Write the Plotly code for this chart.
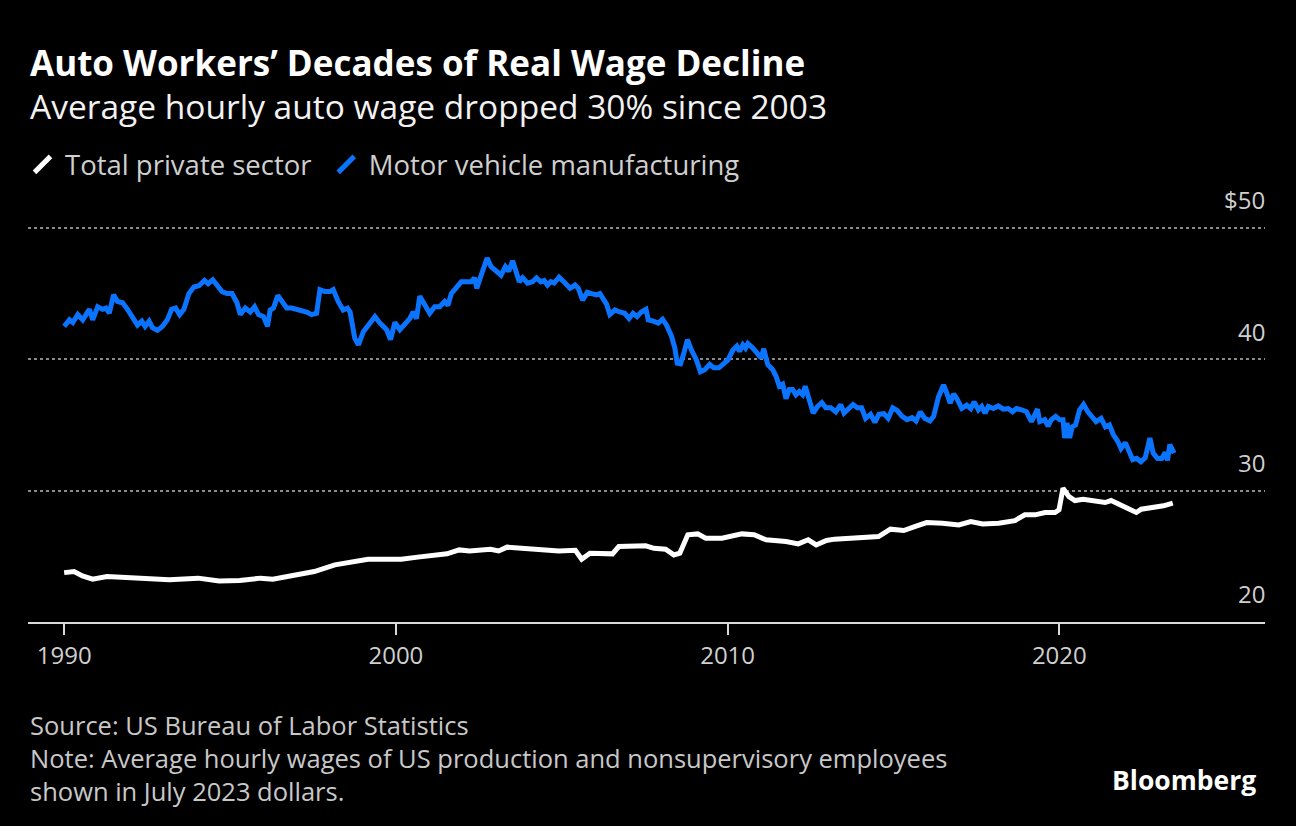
import plotly.graph_objects as go

# ---------------- data ----------------
blue_years = [
    1990.00, 1990.16, 1990.26, 1990.41, 1990.56, 1990.76, 1990.86, 1991.01, 1991.16, 1991.26,
    1991.36, 1991.49, 1991.61, 1991.76, 1991.91, 1992.06, 1992.21, 1992.34, 1992.44, 1992.56,
    1992.66, 1992.81, 1992.96, 1993.11, 1993.24, 1993.36, 1993.48, 1993.61, 1993.76, 1993.91,
    1994.06, 1994.23, 1994.34, 1994.48, 1994.61, 1994.76, 1994.91, 1995.06, 1995.21, 1995.31,
    1995.46, 1995.61, 1995.74, 1995.86, 1996.01, 1996.13, 1996.21, 1996.31, 1996.44, 1996.56,
    1996.71, 1996.86, 1997.01, 1997.16, 1997.31, 1997.46, 1997.61, 1997.71, 1997.86, 1998.01,
    1998.11, 1998.26, 1998.41, 1998.54, 1998.62, 1998.76, 1998.87, 1999.02, 1999.17, 1999.37,
    1999.52, 1999.72, 1999.84, 1999.97, 2000.12, 2000.27, 2000.42, 2000.52, 2000.62, 2000.72,
    2000.87, 2001.02, 2001.17, 2001.32, 2001.47, 2001.57, 2001.67, 2001.82, 2001.97, 2002.12,
    2002.27, 2002.37, 2002.44, 2002.57, 2002.67, 2002.75, 2002.87, 2003.02, 2003.17, 2003.30,
    2003.40, 2003.52, 2003.62, 2003.72, 2003.82, 2003.97, 2004.12, 2004.24, 2004.37, 2004.47,
    2004.57, 2004.67, 2004.77, 2004.92, 2005.10, 2005.25, 2005.40, 2005.50, 2005.63, 2005.77,
    2005.90, 2006.05, 2006.15, 2006.25, 2006.35, 2006.45, 2006.60, 2006.75, 2006.90, 2007.03,
    2007.15, 2007.27, 2007.40, 2007.54, 2007.61, 2007.76, 2007.91, 2008.04, 2008.16, 2008.31,
    2008.41, 2008.48, 2008.58, 2008.68, 2008.79, 2008.91, 2009.06, 2009.18, 2009.31, 2009.46,
    2009.58, 2009.74, 2009.86, 2010.01, 2010.16, 2010.28, 2010.36, 2010.46, 2010.54, 2010.61,
    2010.76, 2010.91, 2011.01, 2011.09, 2011.21, 2011.36, 2011.46, 2011.56, 2011.66, 2011.76,
    2011.86, 2011.96, 2012.06, 2012.16, 2012.26, 2012.34, 2012.46, 2012.58, 2012.71, 2012.84,
    2012.96, 2013.11, 2013.26, 2013.41, 2013.51, 2013.66, 2013.78, 2013.91, 2014.04, 2014.16,
    2014.31, 2014.44, 2014.56, 2014.71, 2014.84, 2014.98, 2015.11, 2015.26, 2015.41, 2015.56,
    2015.68, 2015.81, 2015.94, 2016.10, 2016.21, 2016.36, 2016.51, 2016.61, 2016.71, 2016.81,
    2016.91, 2017.06, 2017.21, 2017.33, 2017.43, 2017.56, 2017.66, 2017.76, 2017.86, 2018.01,
    2018.16, 2018.31, 2018.46, 2018.59, 2018.71, 2018.86, 2019.01, 2019.16, 2019.26, 2019.34,
    2019.41, 2019.56, 2019.66, 2019.76, 2019.89, 2020.01, 2020.11, 2020.16, 2020.23, 2020.31,
    2020.39, 2020.49, 2020.61, 2020.73, 2020.86, 2020.99, 2021.11, 2021.26, 2021.39, 2021.51,
    2021.63, 2021.76, 2021.86, 2021.99, 2022.09, 2022.21, 2022.33, 2022.46, 2022.59, 2022.73,
    2022.83, 2022.96, 2023.09, 2023.19, 2023.26, 2023.33, 2023.41, 2023.46,
]
blue_wages = [
    42.5, 43.0, 42.8, 43.4, 43.0, 43.8, 43.0, 44.0, 43.8, 43.9,
    43.5, 44.9, 44.4, 44.3, 43.8, 43.25, 42.6, 42.9, 42.5, 42.9,
    42.4, 42.2, 42.5, 43.0, 43.8, 43.9, 43.4, 43.8, 45.0, 45.5,
    45.6, 46.0, 45.75, 46.05, 45.6, 45.15, 45.0, 45.0, 44.3, 43.4,
    43.9, 43.6, 44.0, 43.4, 43.25, 42.5, 43.75, 43.9, 44.85, 44.4,
    43.9, 43.9, 43.8, 43.75, 43.6, 43.4, 43.5, 45.3, 45.15, 45.15,
    45.3, 44.4, 43.75, 43.9, 43.6, 41.6, 41.1, 42.1, 42.6, 43.25,
    42.75, 42.25, 41.5, 42.8, 42.25, 42.75, 43.1, 43.6, 43.1, 44.8,
    44.1, 43.5, 44.0, 44.0, 44.4, 44.1, 45.0, 45.5, 45.9, 45.9,
    45.9, 46.2, 45.4, 46.4, 47.05, 47.7, 47.05, 46.7, 46.4, 47.05,
    46.7, 47.5, 46.55, 45.9, 46.2, 45.8, 45.9, 46.2, 45.9, 46.0,
    45.65, 45.9, 45.8, 46.25, 45.8, 45.4, 45.65, 45.4, 44.5, 45.1,
    45.0, 44.9, 45.0, 44.5, 44.2, 43.4, 43.75, 43.6, 43.5, 43.1,
    43.5, 43.25, 43.6, 43.8, 43.0, 42.9, 42.75, 43.05, 42.6, 41.75,
    40.85, 39.7, 39.65, 40.45, 41.5, 40.7, 39.95, 39.05, 39.2, 39.6,
    39.35, 39.35, 39.6, 39.95, 40.7, 41.0, 40.6, 41.1, 40.85, 41.2,
    40.85, 40.45, 40.1, 40.8, 39.6, 39.2, 38.7, 37.95, 38.1, 37.0,
    37.7, 37.7, 37.3, 37.55, 37.3, 37.95, 37.0, 35.9, 36.4, 36.7,
    36.3, 36.3, 36.0, 36.55, 35.9, 36.3, 36.55, 36.3, 36.3, 35.5,
    35.8, 35.2, 35.8, 35.85, 35.5, 36.3, 36.1, 35.65, 35.4, 35.55,
    35.3, 36.0, 35.5, 35.3, 35.65, 37.15, 38.05, 37.4, 36.65, 37.35,
    37.0, 36.25, 36.5, 36.25, 36.75, 36.15, 36.4, 35.9, 36.4, 36.25,
    36.45, 36.2, 36.25, 36.0, 36.25, 36.15, 36.0, 35.25, 35.75, 36.2,
    35.25, 35.4, 34.9, 35.4, 35.65, 35.4, 35.4, 34.0, 35.15, 34.0,
    34.85, 35.0, 36.15, 36.55, 36.0, 35.65, 35.25, 35.5, 34.85, 35.0,
    34.25, 33.75, 33.2, 33.65, 32.95, 32.35, 32.45, 32.2, 32.5, 34.0,
    32.85, 32.45, 32.45, 32.9, 32.3, 33.5, 33.1, 32.85,
]

white_years = [
    1990.00, 1990.30, 1990.55, 1990.86, 1991.29, 1991.67, 1992.42, 1993.17, 1994.04, 1994.67,
    1995.29, 1995.92, 1996.29, 1996.91, 1997.54, 1998.16, 1998.66, 1999.16, 1999.66, 2000.16,
    2000.66, 2001.16, 2001.54, 2001.91, 2002.22, 2002.85, 2003.10, 2003.35, 2003.78, 2004.41,
    2004.91, 2005.41, 2005.60, 2005.85, 2006.28, 2006.53, 2006.72, 2007.28, 2007.53, 2007.78,
    2008.13, 2008.38, 2008.56, 2008.80, 2009.10, 2009.34, 2009.83, 2010.43, 2010.80, 2011.16,
    2011.76, 2012.13, 2012.43, 2012.67, 2012.98, 2013.22, 2013.94, 2014.55, 2014.91, 2015.31,
    2015.64, 2016.00, 2016.48, 2016.97, 2017.33, 2017.69, 2018.17, 2018.66, 2018.96, 2019.27,
    2019.57, 2019.87, 2019.99, 2020.11, 2020.29, 2020.47, 2020.72, 2021.08, 2021.38, 2021.56,
    2021.87, 2022.17, 2022.32, 2022.47, 2022.78, 2023.14, 2023.42,
]
white_wages = [
    23.75, 23.83, 23.5, 23.25, 23.45, 23.4, 23.3, 23.2, 23.33, 23.12,
    23.15, 23.33, 23.25, 23.5, 23.83, 24.34, 24.52, 24.77, 24.77, 24.77,
    24.93, 25.03, 25.18, 25.48, 25.4, 25.53, 25.4, 25.69, 25.6, 25.48,
    25.4, 25.45, 24.77, 25.23, 25.23, 25.18, 25.74, 25.79, 25.79, 25.6,
    25.53, 25.1, 25.23, 26.63, 26.7, 26.37, 26.37, 26.7, 26.63, 26.25,
    26.12, 25.94, 26.25, 25.86, 26.2, 26.3, 26.37, 26.5, 27.06, 26.96,
    27.26, 27.56, 27.51, 27.38, 27.64, 27.46, 27.51, 27.71, 28.15, 28.15,
    28.33, 28.33, 28.53, 30.18, 29.54, 29.24, 29.34, 29.24, 29.09, 29.24,
    28.91, 28.58, 28.33, 28.58, 28.66, 28.84, 29.04,
]

series_names = ["Total private sector", "Motor vehicle manufacturing"]
x_tick_vals = [1990, 2000, 2010, 2020]
x_tick_text = ["1990", "2000", "2010", "2020"]
y_tick_vals = [20, 30, 40, 50]
y_tick_text = ["20", "30", "40", "$50"]

title_text = "Auto Workers’ Decades of Real Wage Decline"
subtitle_text = "Average hourly auto wage dropped 30% since 2003"
source_lines = [
    "Source: US Bureau of Labor Statistics",
    "Note: Average hourly wages of US production and nonsupervisory employees",
    "shown in July 2023 dollars.",
]

# ---------------- styling ----------------
FONT = "Open Sans"
BLUE = "#0a74ff"
WHITE = "#ffffff"
GREY_TXT = "#cfcfcf"

fig = go.Figure()

fig.add_trace(go.Scatter(
    x=white_years, y=white_wages, mode="lines",
    line=dict(color=WHITE, width=5), showlegend=False, hoverinfo="skip",
))
fig.add_trace(go.Scatter(
    x=blue_years, y=blue_wages, mode="lines",
    line=dict(color=BLUE, width=5), showlegend=False, hoverinfo="skip",
))

# legend entries with slanted glyphs
legend_labels = [series_names[0] + "\u00a0", series_names[1]]
for name, col in zip(legend_labels, [WHITE, BLUE]):
    fig.add_trace(go.Scatter(
        x=[None], y=[None], mode="markers", name=name,
        marker=dict(symbol="line-ne", size=22, line=dict(width=5, color=col), color=col),
    ))

W, H = 1296, 826
ml, mr, mt, mb = 28, 31, 224, 204
y_lo, y_hi = 19.99, 50.3
ph = H - mt - mb
base_pix = H - mb  # pixel row of y_lo


def py(pix):
    # pixel row -> paper fraction
    return (base_pix - pix) / ph


fig.update_layout(
    width=W, height=H,
    paper_bgcolor="#000000", plot_bgcolor="#000000",
    margin=dict(l=ml, r=mr, t=mt, b=mb),
    font=dict(family=FONT, color=GREY_TXT, size=24),
    showlegend=True,
    legend=dict(
        orientation="h", xref="container", yref="container",
        x=20 / W, y=1 - 140 / H, xanchor="left", yanchor="top",
        font=dict(family=FONT, size=27.5, color=GREY_TXT),
        bgcolor="rgba(0,0,0,0)", itemwidth=35, tracegroupgap=0,
    ),
    xaxis=dict(
        range=[1988.91, 2026.2], tickvals=x_tick_vals, ticktext=x_tick_text,
        showgrid=False, zeroline=False, showline=True, linecolor="#d9d9d9", linewidth=2,
        ticks="outside", ticklen=11, tickwidth=2, tickcolor="#d9d9d9",
        tickfont=dict(family=FONT, size=24, color=GREY_TXT),
    ),
    yaxis=dict(
        range=[y_lo, y_hi], side="right", tickvals=y_tick_vals,
        showgrid=True, gridcolor="#8a8a8a", gridwidth=1.5, griddash="dot",
        zeroline=False, showline=False, ticks="", showticklabels=False,
    ),
)

ann = []
ann.append(dict(text=f"<b>{title_text}</b>", x=0, y=py(62.5), xref="paper", yref="paper",
                xanchor="left", yanchor="middle", showarrow=False,
                font=dict(family=FONT, size=35, color="#ffffff")))
ann.append(dict(text=subtitle_text, x=0, y=py(106.5), xref="paper", yref="paper",
                xanchor="left", yanchor="middle", showarrow=False,
                font=dict(family=FONT, size=33.5, color="#f2f2f2")))
ann.append(dict(text="<br>".join(source_lines), x=0, y=py(757.5), xref="paper", yref="paper",
                xanchor="left", yanchor="middle", align="left", showarrow=False,
                font=dict(family=FONT, size=25.5, color="#c8c8c8")))
ann.append(dict(text="<b>Bloomberg</b>", x=(1258 - ml) / (W - ml - mr), y=py(780),
                xref="paper", yref="paper", xanchor="right", yanchor="middle",
                showarrow=False, font=dict(family=FONT, size=26.5, color="#ffffff")))
# right-side value labels sitting above each gridline
for v, t in zip(y_tick_vals, y_tick_text):
    ann.append(dict(text=t, x=1, y=v, xref="paper", yref="y",
                    xanchor="right", yanchor="middle", yshift=28, xshift=2,
                    showarrow=False, font=dict(family=FONT, size=24, color=GREY_TXT)))
fig.update_layout(annotations=ann)

fig.write_html("out.html", config={"displayModeBar": False},
               post_script="document.body.style.margin='0px';")
